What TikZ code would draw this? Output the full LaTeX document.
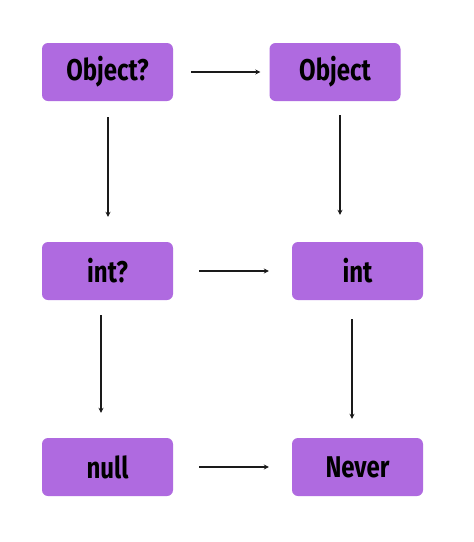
\documentclass[tikz,border=0pt]{standalone}
\usepackage{fontspec}
\newfontfamily\hand[FakeStretch=0.8]{Fira Sans}
\usetikzlibrary{arrows.meta}
\definecolor{boxfill}{HTML}{AF6AE0}
\definecolor{linecol}{HTML}{1A1A1A}
\begin{document}
\begin{tikzpicture}[x=1pt,y=-1pt,
  tbox/.style={fill=boxfill,draw=none,rounded corners=6pt,minimum width=131pt,minimum height=58pt,inner sep=0pt,font=\hand\bfseries\fontsize{30}{34}\selectfont,text=black},
  conn/.style={draw=linecol,line width=1.1pt,-{Stealth[length=5pt,width=5pt]}}]
\useasboundingbox (0,0) rectangle (474,542);
\fill[white] (0,0) rectangle (474,542);
\node[tbox] (A) at (107.5,72) {Object?};
\node[tbox] (B) at (335,72) {Object};
\node[tbox] (C) at (107.5,271) {int?};
\node[tbox] (D) at (357.5,271) {int};
\node[tbox] (E) at (107.5,467) {null};
\node[tbox] (F) at (357.5,467) {Never};
\draw[conn,shorten <=18pt,shorten >=9pt] (A.east) -- (B.west);
\draw[conn,shorten <=26pt,shorten >=23pt] (C.east) -- (D.west);
\draw[conn,shorten <=26pt,shorten >=23pt] (E.east) -- (F.west);
\draw[conn,shorten <=16pt,shorten >=25pt] ([xshift=0.5pt]A.south) -- ([xshift=0.5pt]C.north);
\draw[conn,shorten <=15pt,shorten >=25pt] ([xshift=-6.5pt]C.south) -- ([xshift=-6.5pt]E.north);
\draw[conn,shorten <=14pt,shorten >=27pt] ([xshift=5pt]B.south) -- ([xshift=-17.5pt]D.north);
\draw[conn,shorten <=19pt,shorten >=19pt] ([xshift=-5.5pt]D.south) -- ([xshift=-5.5pt]F.north);
\end{tikzpicture}
\end{document}
